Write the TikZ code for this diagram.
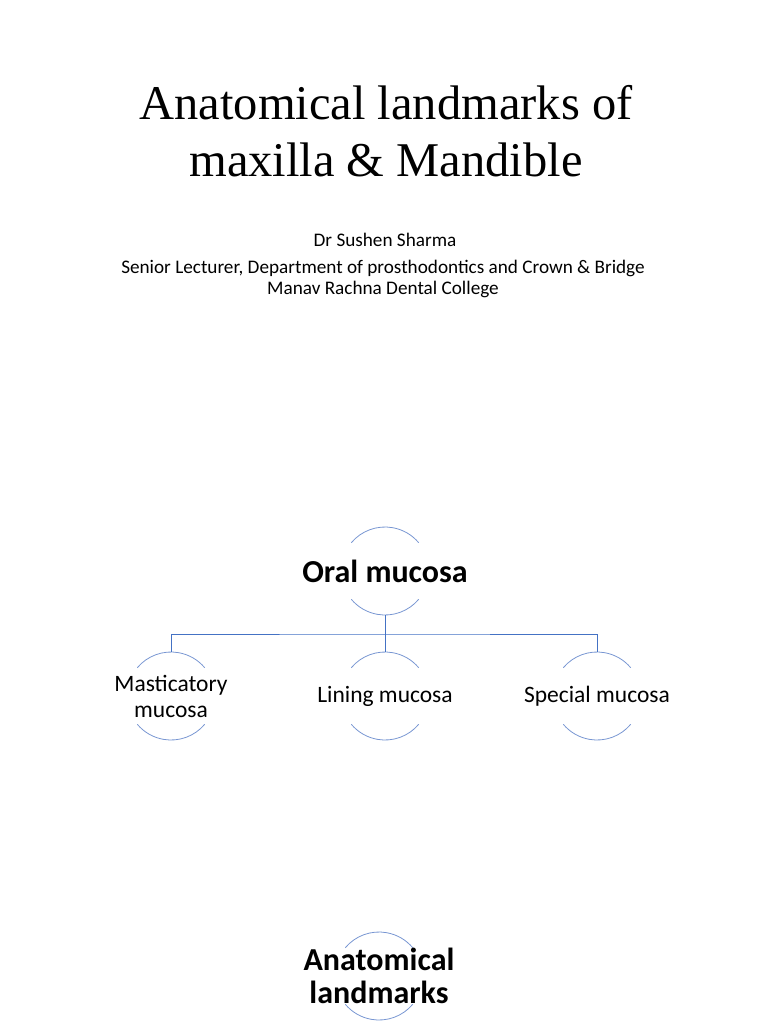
\documentclass[tikz,border=0pt]{standalone}
\usepackage{fontspec}
\setmainfont{Carlito}
\newfontfamily\titlefont{Liberation Serif}
\definecolor{arccol}{RGB}{120,150,210}
\definecolor{conncol}{RGB}{68,114,196}
\begin{document}
\begin{tikzpicture}[x=1pt,y=-1pt,
  arcs/.style={draw=arccol, line width=0.8pt},
  conn/.style={draw=conncol, line width=0.8pt},
  lbl/.style={align=center, font=\fontsize{23.5}{26}\selectfont}]
\useasboundingbox (0,0) rectangle (768,1024);
\node[font=\titlefont\fontsize{48.5}{57}\selectfont, align=center] (title) at (386,131) {Anatomical landmarks of\\maxilla \& Mandible};
\node[font=\fontsize{19.2}{22}\selectfont] (author) at (385,240) {Dr Sushen Sharma};
\node[font=\fontsize{19.2}{21}\selectfont, align=center] (aff) at (383,279) {Senior Lecturer, Department of prosthodontics and Crown \& Bridge\\Manav Rachna Dental College};
\foreach \n/\x/\y in {root/385/571, m/171/696, l/385/696, s/597/696, a/379/976}{
  \coordinate (\n) at (\x,\y);
  \draw[arcs] (\n) ++(40:44) arc (40:140:44);
  \draw[arcs] (\n) ++(220:44) arc (220:320:44);
}
\node[font=\bfseries\fontsize{32}{36}\selectfont] (rootlbl) at (root) {Oral mucosa};
\node[lbl] (mlbl) at (m) {Masticatory\\mucosa};
\node[lbl] (llbl) at (l) {Lining mucosa};
\node[lbl] (slbl) at (s) {Special mucosa};
\node[font=\bfseries\fontsize{32}{33}\selectfont, align=center] (albl) at (a) {Anatomical\\landmarks};
\coordinate (rb) at (385,615);
\coordinate (bus) at (385,634);
\draw[conn] (rb) -- (bus);
\draw[conn] (171,652) |- (bus) -| (597,652);
\draw[conn] (bus) -- (385,652);
\end{tikzpicture}
\end{document}
